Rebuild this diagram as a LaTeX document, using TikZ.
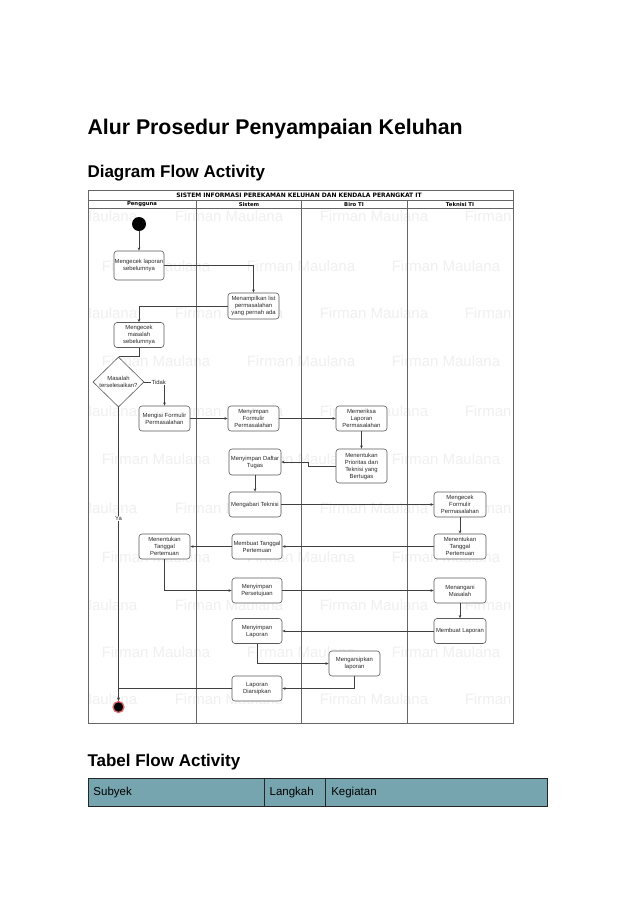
\documentclass[tikz,border=0pt]{standalone}
\usepackage{fontspec}
\setmainfont{Liberation Sans}
\newfontfamily\verd{DejaVu Sans}
\usetikzlibrary{arrows.meta,shapes.geometric}
\definecolor{tblfill}{HTML}{76A5AF}
\definecolor{boxline}{HTML}{5A5A5A}
\definecolor{txt}{HTML}{2A2A2A}
\definecolor{wmark}{HTML}{F0F0F0}
\definecolor{endring}{HTML}{E06A6A}
\begin{document}
\begin{tikzpicture}[x=1pt,y=-1pt,
  box/.style={draw=boxline, line width=0.6pt, rounded corners=3pt, fill=white,
    minimum width=51pt, minimum height=25pt, inner sep=0pt, align=center,
    font=\fontsize{5.9}{7}\selectfont, text=txt},
  flow/.style={draw=black!75, line width=0.55pt, -{Stealth[length=3.2pt,width=2.6pt]}},
  plain/.style={draw=black!75, line width=0.55pt},
  lane/.style={draw=black!60, line width=0.7pt},
  hdr/.style={font=\verd\bfseries\fontsize{5.3}{6}\selectfont, inner sep=0pt},
  lbl/.style={font=\fontsize{5.9}{7}\selectfont, text=txt, fill=white, inner sep=0.5pt},
  wm/.style={font=\fontsize{15}{17}\selectfont, text=wmark, inner sep=0pt},
  head/.style={font=\bfseries\fontsize{21.3}{24}\selectfont, inner sep=0pt, anchor=base west},
  subhead/.style={font=\bfseries\fontsize{17}{20}\selectfont, inner sep=0pt, anchor=base west},
  cell/.style={draw=black!85, line width=0.9pt, fill=tblfill, anchor=north west,
    minimum height=27.4pt, inner xsep=5.5pt, inner ysep=0pt, align=left,
    font=\fontsize{11.5}{13}\selectfont}
  ]
\useasboundingbox (0,0) rectangle (638,902);
\fill[white] (0,0) rectangle (638,902);

% headings
\node[head] (title) at (87.3,134) {Alur Prosedur Penyampaian Keluhan};
\node[subhead] (sub1) at (87.3,177) {Diagram Flow Activity};
\node[subhead] (sub2) at (87.3,766.7) {Tabel Flow Activity};

% watermark
\begin{scope}
\clip (88,190.5) rectangle (513,723.5);
\foreach \yy [count=\i] in {216,313,411,508,605,699}{
  \foreach \xx [count=\j] in {83,229,374,519}{
    \node[wm] (wa\i\j) at (\xx,\yy) {Firman Maulana};
  }
}
\foreach \yy [count=\i] in {266,361,459,557,652}{
  \foreach \xx [count=\j] in {156,301,446}{
    \node[wm] (wb\i\j) at (\xx,\yy) {Firman Maulana};
  }
}
\end{scope}

% swimlane frame
\draw[lane] (88,190.5) rectangle (513,723.5);
\draw[lane] (88,200) -- (513,200);
\draw[lane] (88,208.5) -- (513,208.5);
\draw[lane] (196,200) -- (196,723.5);
\draw[lane] (301.5,200) -- (301.5,723.5);
\draw[lane] (407,200) -- (407,723.5);
\node[hdr, font=\verd\bfseries\fontsize{6}{7}\selectfont] (sysname) at (299,195.5) {SISTEM INFORMASI PEREKAMAN KELUHAN DAN KENDALA PERANGKAT IT};
\node[hdr] (l1) at (142,204.3) {Pengguna};
\node[hdr] (l2) at (249,204.3) {Sistem};
\node[hdr] (l3) at (354,204.3) {Biro TI};
\node[hdr] (l4) at (460,204.3) {Teknisi TI};

% nodes
\node[circle, fill=black, minimum size=14pt, inner sep=0pt] (start) at (139,224) {};
\node[box, minimum width=50pt, minimum height=29pt] (u1) at (139,265.5) {Mengecek laporan\\sebelumnya};
\node[box, minimum height=26pt] (s1) at (253.5,306) {Menampilkan list\\permasalahan\\yang pernah ada};
\node[box, minimum width=50pt] (u2) at (139,335) {Mengecek\\masalah\\sebelumnya};
\node[diamond, draw=boxline, line width=0.6pt, fill=white, aspect=1, inner sep=0pt,
      minimum width=51pt, minimum height=50pt, align=center,
      font=\fontsize{5.9}{7}\selectfont, text=txt] (d) at (118.5,382) {Masalah\\terselesaikan?};
\node[box] (u3) at (164.5,418.5) {Mengisi Formulir\\Permasalahan};
\node[box] (s2) at (253.5,418.5) {Menyimpan\\Formulir\\Permasalahan};
\node[box] (b1) at (361.5,418.5) {Memeriksa\\Laporan\\Permasalahan};
\node[box, minimum height=34pt] (b2) at (361.5,466) {Menentukan\\Prioritas dan\\Teknisi yang\\Bertugas};
\node[box, minimum width=52pt, minimum height=26pt] (s3) at (255,462) {Menyimpan Daftar\\Tugas};
\node[box, minimum width=52pt] (s4) at (255,504.5) {Mengabari Teknisi};
\node[box, minimum width=52pt] (t1) at (460,504.5) {Mengecek\\Formulir\\Permasalahan};
\node[box, minimum width=52pt] (t2) at (460,546.5) {Menentukan\\Tanggal\\Pertemuan};
\node[box, minimum width=50pt] (s5) at (257,546.5) {Membuat Tanggal\\Pertemuan};
\node[box] (u4) at (164.5,546.5) {Menentukan\\Tanggal\\Pertemuan};
\node[box, minimum width=50pt] (s6) at (257,590.5) {Menyimpan\\Persetujuan};
\node[box, minimum width=52pt] (t3) at (460,590.5) {Menangani\\Masalah};
\node[box, minimum width=52pt] (t4) at (460,631) {Membuat Laporan};
\node[box, minimum width=50pt] (s7) at (257,631) {Menyimpan\\Laporan};
\node[box] (b3) at (354.5,663.5) {Mengarsipkan\\laporan};
\node[box, minimum width=50pt] (s8) at (257,688.5) {Laporan\\Diarsipkan};
\node[circle, fill=black, draw=endring, line width=1.3pt, minimum size=11pt, inner sep=0pt] (end) at (118.5,707) {};

% connectors
\draw[flow] (start) -- (u1);
\draw[flow] (u1.east) -| (s1.north);
\draw[flow] (s1.west) -| (u2.north);
\draw[plain] (u2.south) |- (d.north);
\draw[flow] (d.east) -| node[lbl, pos=0.36] (tidak) {Tidak} (u3.north);
\draw[flow] (u3) -- (s2);
\draw[flow] (s2) -- (b1);
\draw[flow] (b1) -- (b2);
\draw[flow] (b2.west) -- ++(-27,0) |- (s3.east);
\draw[flow] (s3) -- (s4);
\draw[flow] (s4) -- (t1);
\draw[flow] (t1) -- (t2);
\draw[flow] (t2) -- (s5);
\draw[flow] (s5) -- (u4);
\draw[flow] (u4.south) |- (s6.west);
\draw[flow] (s6) -- (t3);
\draw[flow] (t3) -- (t4);
\draw[flow] (t4) -- (s7);
\draw[flow] (s7.south) |- (b3.west);
\draw[flow] (b3.south) |- (s8.east);
\draw[flow] (s8.west) -| (end.north);
\draw[flow] (d.south) -- node[lbl, pos=0.38] (ya) {Ya} (end.north);

% table
\node[cell, minimum width=176.2pt, text width=165.2pt] (c1) at (87.5,778.3) {Subyek};
\node[cell, minimum width=61.6pt, text width=50.6pt] (c2) at (263.7,778.3) {Langkah};
\node[cell, minimum width=221.7pt, text width=210.7pt] (c3) at (325.3,778.3) {Kegiatan};
\end{tikzpicture}
\end{document}
